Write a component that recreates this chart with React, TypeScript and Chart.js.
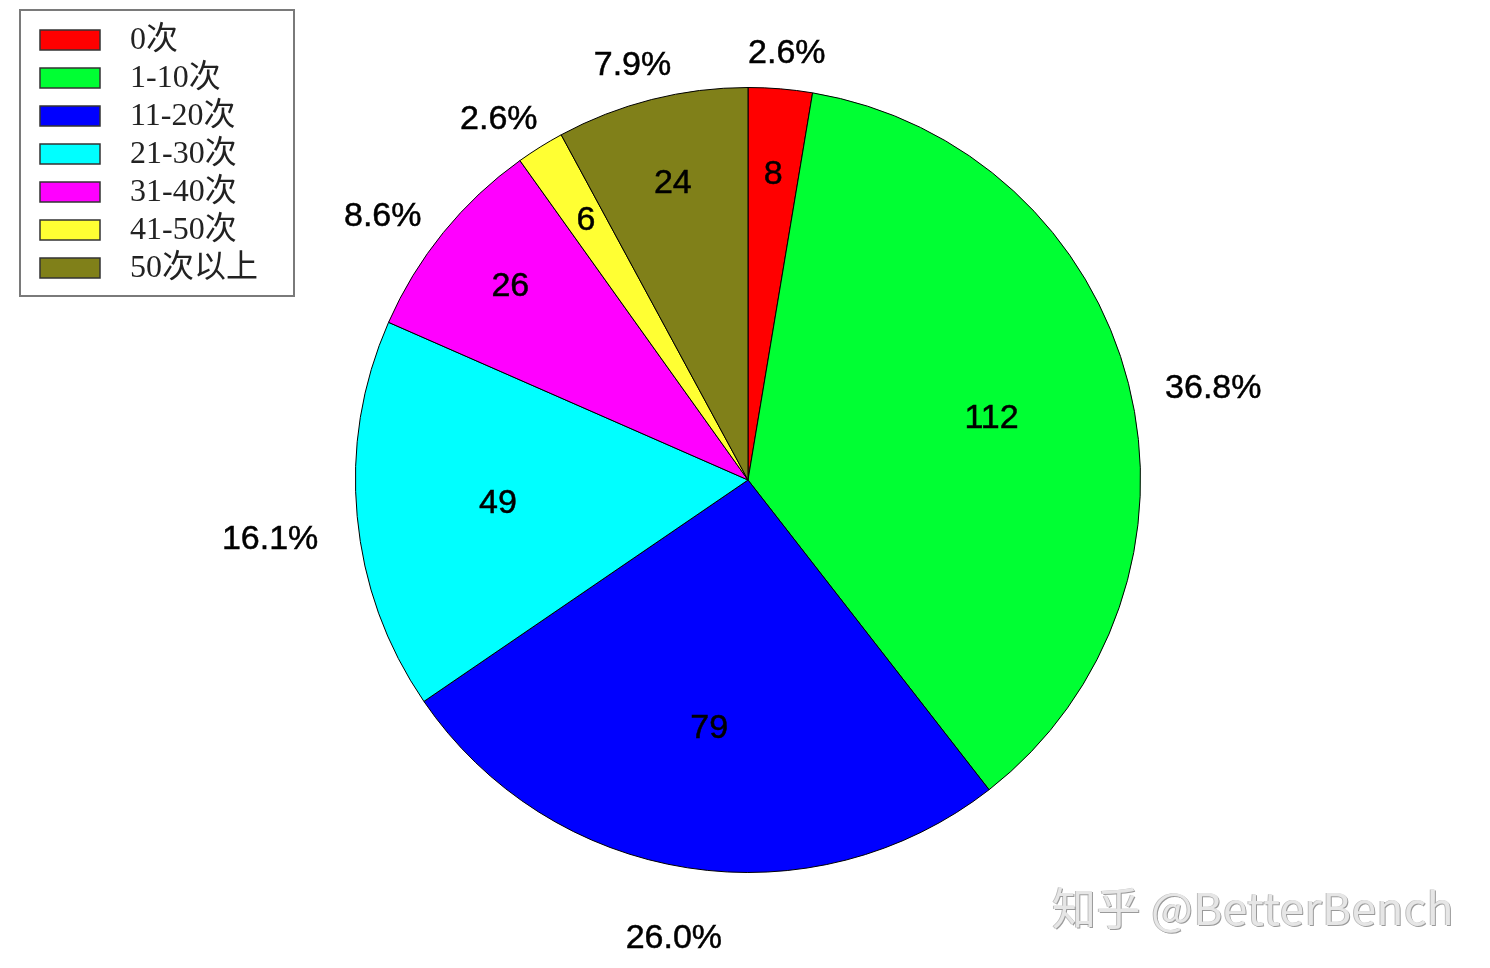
import React, { useEffect, useRef } from "react";
import { Chart, registerables } from "chart.js";

Chart.register(...registerables);

const categories = ["0次", "1-10次", "11-20次", "21-30次", "31-40次", "41-50次", "50次以上"];
const counts = [8, 112, 79, 49, 26, 6, 24];
const percentLabels = ["2.6%", "36.8%", "26.0%", "16.1%", "8.6%", "2.6%", "7.9%"];
const sliceColors = ["#ff0000", "#00ff33", "#0000ff", "#00ffff", "#ff00ff", "#ffff33", "#808019"];

const LABEL_FONT = '34px "Liberation Sans", Arial, sans-serif';

const labelPlugin = {
  id: "sliceLabels",
  afterDatasetsDraw(chart: any) {
    const ctx = chart.ctx;
    const meta = chart.getDatasetMeta(0);
    const total = counts.reduce((a, b) => a + b, 0);
    ctx.save();
    ctx.font = LABEL_FONT;
    ctx.fillStyle = "#000";
    ctx.strokeStyle = "#000";
    ctx.lineWidth = 0.5;
    ctx.textAlign = "center";
    ctx.textBaseline = "middle";
    const put = (t: string, x: number, y: number) => {
      ctx.fillText(t, x, y);
      ctx.strokeText(t, x, y);
    };
    meta.data.forEach((arc: any, i: number) => {
      const p = arc.getProps(["x", "y", "startAngle", "endAngle", "outerRadius"], true);
      const mid = (p.startAngle + p.endAngle) / 2;
      const c = Math.cos(mid);
      const s = Math.sin(mid);
      const frac = counts[i] / total;
      const k = frac < 0.1 ? 0.78 : 0.64;
      put(String(counts[i]), p.x + c * p.outerRadius * k, p.y + s * p.outerRadius * k);
      const txt = percentLabels[i];
      const hw = ctx.measureText(txt).width / 2;
      const hh = 14;
      const ax = p.x + c * p.outerRadius * 1.1 + hw * c;
      const ay = p.y + s * p.outerRadius * 1.1 + hh * s + 18;
      put(txt, ax, ay);
    });
    ctx.restore();
  },
};

const legendPlugin = {
  id: "boxLegend",
  afterDraw(chart: any) {
    const ctx = chart.ctx;
    const labels = chart.data.labels as string[];
    const colors = chart.data.datasets[0].backgroundColor as string[];
    ctx.save();
    ctx.fillStyle = "#ffffff";
    ctx.fillRect(20, 10, 274, 286);
    ctx.strokeStyle = "#7a7a7a";
    ctx.lineWidth = 2;
    ctx.strokeRect(20, 10, 274, 286);
    ctx.font = '32px "Liberation Serif", "Noto Sans CJK SC", serif';
    ctx.textAlign = "left";
    ctx.textBaseline = "middle";
    labels.forEach((lab, i) => {
      const yc = 40 + i * 38;
      ctx.fillStyle = colors[i];
      ctx.fillRect(40, yc - 10, 60, 20);
      ctx.strokeStyle = "#333";
      ctx.lineWidth = 1.5;
      ctx.strokeRect(40, yc - 10, 60, 20);
      ctx.fillStyle = "#222";
      ctx.fillText(lab, 130, yc + 1);
    });
    ctx.restore();
  },
};

export default function App() {
  const ref = useRef<HTMLCanvasElement | null>(null);
  useEffect(() => {
    document.body.style.margin = "0";
    if (!ref.current) return;
    const chart = new Chart(ref.current, {
      type: "pie",
      data: {
        labels: categories,
        datasets: [
          {
            data: counts,
            backgroundColor: sliceColors,
            borderColor: "#000",
            borderWidth: 1,
          },
        ],
      },
      options: {
        responsive: false,
        animation: false,
        layout: { padding: { top: 87, bottom: 95, left: 355, right: 349 } },
        plugins: { legend: { display: false }, tooltip: { enabled: false } },
      },
      plugins: [labelPlugin, legendPlugin],
    });
    return () => chart.destroy();
  }, []);
  return (
    <div style={{ position: "relative", width: 1490, height: 968, background: "#fff" }}>
      <canvas ref={ref} width={1490} height={968} style={{ display: "block" }} />
      <div
        style={{
          position: "absolute",
          left: 1052,
          top: 878,
          fontFamily: '"Noto Sans CJK SC", "Noto Sans", sans-serif',
          fontSize: 44,
          color: "#e6e6e6",
          textShadow: "1px 1px 0 #9a9a9a, -1px 0 0 #bdbdbd",
          whiteSpace: "nowrap",
          lineHeight: "56px",
          letterSpacing: 0.5,
        }}
      >
        知乎 @BetterBench
      </div>
    </div>
  );
}
